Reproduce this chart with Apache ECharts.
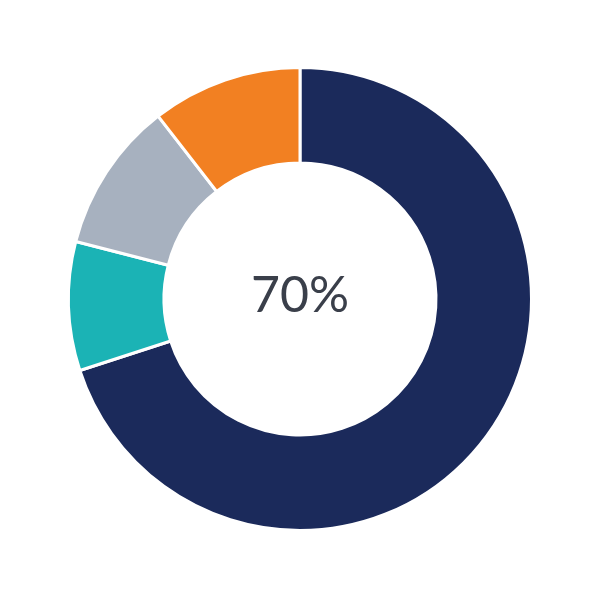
<!DOCTYPE html>
<html>
<head>
<meta charset="utf-8">
<script src="https://cdn.jsdelivr.net/npm/echarts@6/dist/echarts.min.js"></script>
<style>
html,body{margin:0;padding:0;background:#fff;}
#main{width:600px;height:599px;}
</style>
</head>
<body>
<div id="main"></div>
<script>
const categories = ['A', 'B', 'C', 'D'];
const values = [70, 9, 10.5, 10.5];
const colors = ['#1b2a5b', '#1bb3b5', '#a7b1bf', '#f28022'];
const centerLabel = values[0] + '%';

const chart = echarts.init(document.getElementById('main'), null, {renderer: 'canvas'});
chart.setOption({
  animation: false,
  backgroundColor: '#ffffff',
  series: [{
    type: 'pie',
    center: [300, 299],
    radius: [136, 231.5],
    startAngle: 90,
    clockwise: true,
    avoidLabelOverlap: false,
    label: {show: false},
    labelLine: {show: false},
    emphasis: {disabled: true},
    itemStyle: {borderColor: '#ffffff', borderWidth: 3},
    data: categories.map((c, i) => ({name: c, value: values[i], itemStyle: {color: colors[i]}}))
  }],
  graphic: [{
    type: 'text',
    x: 300,
    y: 296,
    style: {
      text: centerLabel,
      fill: '#3a3f4a',
      font: '50px Lato',
      textAlign: 'center',
      textVerticalAlign: 'middle'
    }
  }]
});
</script>
</body>
</html>
